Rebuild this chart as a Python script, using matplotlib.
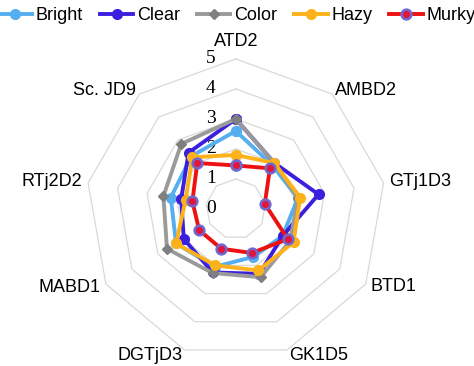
import numpy as np
import matplotlib
matplotlib.use("Agg")
import matplotlib.pyplot as plt
from matplotlib.lines import Line2D

# 数据
categories = ["ATD2", "AMBD2", "GTj1D3", "BTD1", "GK1D5",
              "DGTjD3", "MABD1", "RTj2D2", "Sc. JD9"]
bright = [2.6, 1.9, 2.1, 1.8, 1.7, 2.05, 2.3, 2.2, 2.3]
clear = [3.0, 2.0, 2.8, 1.8, 2.3, 2.25, 2.0, 1.85, 2.45]
color = [3.0, 2.0, 2.1, 2.1, 2.42, 2.27, 2.65, 2.45, 2.83]
hazy = [1.8, 2.0, 2.18, 2.22, 2.18, 2.0, 2.3, 1.7, 2.25]
murky = [1.45, 1.77, 0.98, 2.0, 1.56, 1.41, 1.41, 1.47, 2.0]
series_names = ["Bright", "Clear", "Color", "Hazy", "Murky"]
rticks = [0, 1, 2, 3, 4, 5]

n = len(categories)
theta = np.linspace(0, 2 * np.pi, n, endpoint=False)
theta_c = np.append(theta, theta[0])

fig = plt.figure(figsize=(4.74, 3.66), dpi=100)
ax = fig.add_axes([0.181, 0.019, 0.633, 0.820], projection="polar")
ax.set_theta_zero_location("N")
ax.set_theta_direction(-1)
ax.set_ylim(0, 5)
ax.grid(False)
ax.spines["polar"].set_visible(False)
ax.set_xticks([])
ax.set_yticks([])
ax.patch.set_alpha(0)

# 多边形网格
for r in rticks[1:]:
    ax.plot(theta_c, [r] * (n + 1), color="#d9d9d9", lw=0.9, zorder=1,
            clip_on=False)

# 刻度标签
for r in rticks:
    ax.annotate(str(r), xy=(0, r), xytext=(-25, 0), textcoords="offset pixels",
                ha="center", va="center", fontsize=14,
                family="Liberation Serif", zorder=2, annotation_clip=False)

# 类别标签
label_pos = [(5.58, "center", "center"), (5.15, "left", "center"),
             (5.2, "left", "center"), (5.2, "left", "center"),
             (5.18, "left", "center"), (5.18, "right", "center"),
             (5.22, "right", "center"), (5.2, "right", "center"),
             (5.15, "right", "center")]
for t, lab, (r, ha, va) in zip(theta, categories, label_pos):
    ax.text(t, r, lab, ha=ha, va=va, fontsize=13, family="Liberation Sans",
            clip_on=False)

styles = [
    (bright, dict(color="#55aef0", marker="o", ms=7, mfc="#55aef0", mec="#55aef0")),
    (clear, dict(color="#3a1fdf", marker="o", ms=7, mfc="#3a1fdf", mec="#3a1fdf")),
    (color, dict(color="#9a9a9a", marker="D", ms=5, mfc="#7f7f7f", mec="#7f7f7f")),
    (hazy, dict(color="#fdb21c", marker="o", ms=7, mfc="#fdb21c", mec="#fdb21c")),
    (murky, dict(color="#ee1111", marker="o", ms=7, mfc="#e0163c", mec="#7068d0",
                 mew=1.8)),
]
handles = []
for (vals, st), name in zip(styles, series_names):
    v = np.append(vals, vals[0])
    ax.plot(theta_c, v, lw=2.8, zorder=3, clip_on=False, **st)
    handles.append(Line2D([], [], lw=2.8, label=name, **st))

fig.legend(handles=handles, loc="upper center", bbox_to_anchor=(0.5, 1.005),
           ncol=5, frameon=False, handlelength=1.85,
           handletextpad=0.2, columnspacing=0.95, borderpad=0,
           prop={"family": "Liberation Sans", "size": 13})

fig.savefig("out.png", dpi=100)
